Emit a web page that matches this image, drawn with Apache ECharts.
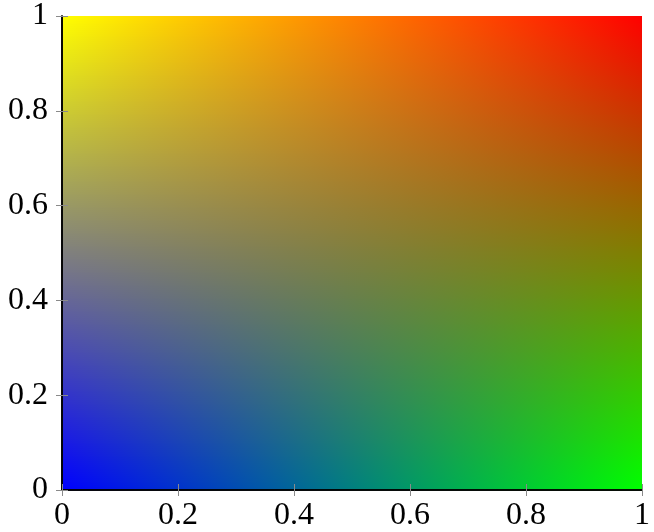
<!DOCTYPE html>
<html>
<head>
<meta charset="utf-8">
<script src="https://cdn.jsdelivr.net/npm/echarts@6/dist/echarts.min.js"></script>
<style>
html,body{margin:0;padding:0;background:#fff;}
#c{width:654px;height:532px;}
</style>
</head>
<body>
<div id="c"></div>
<script>
// Patch extent (data coordinates)
const patchX = [0, 1];
const patchY = [0, 1];
// Corner colours of the interpolated patch
const colorBottomLeft = [0, 0, 255];
const colorBottomRight = [0, 255, 0];
const colorTopLeft = [255, 255, 0];
const colorTopRight = [255, 0, 0];
// Axis ticks
const xTicks = [0, 0.2, 0.4, 0.6, 0.8, 1];
const yTicks = [0, 0.2, 0.4, 0.6, 0.8, 1];

const chart = echarts.init(document.getElementById('c'), null, {renderer: 'canvas'});

function mix(a, b, t) {
  return 'rgb(' + a.map((v, i) => Math.round(v + (b[i] - v) * t)).join(',') + ')';
}

const labelFont = {fontFamily: 'Liberation Serif', fontSize: 32, color: '#000'};
const tickStyle = {show: true, inside: true, length: 6, lineStyle: {color: '#8a8a8a', width: 1}};
const lineStyle = {show: true, lineStyle: {color: '#000', width: 1.6}};

chart.setOption({
  animation: false,
  grid: {left: 62, right: 12, top: 15, bottom: 42, containLabel: false},
  xAxis: [
    {type: 'value', min: xTicks[0], max: xTicks[xTicks.length - 1], interval: 0.2, position: 'bottom', z: 10,
     axisLine: lineStyle, axisTick: tickStyle, splitLine: {show: false},
     axisLabel: Object.assign({margin: 10, formatter: v => String(+v.toFixed(1))}, labelFont)},
    {type: 'value', min: xTicks[0], max: xTicks[xTicks.length - 1], interval: 0.2, position: 'top', z: 10,
     axisLine: lineStyle, axisTick: tickStyle, splitLine: {show: false}, axisLabel: {show: false}}
  ],
  yAxis: [
    {type: 'value', min: yTicks[0], max: yTicks[yTicks.length - 1], interval: 0.2, position: 'left', z: 10,
     axisLine: lineStyle, axisTick: tickStyle, splitLine: {show: false},
     axisLabel: Object.assign({margin: 14, formatter: v => String(+v.toFixed(1))}, labelFont)},
    {type: 'value', min: yTicks[0], max: yTicks[yTicks.length - 1], interval: 0.2, position: 'right', z: 10,
     axisLine: lineStyle, axisTick: tickStyle, splitLine: {show: false}, axisLabel: {show: false}}
  ],
  series: [{
    type: 'custom',
    z: 1,
    silent: true,
    data: [[patchX[0], patchY[0], patchX[1], patchY[1]]],
    renderItem: function (params, api) {
      const p0 = api.coord([api.value(0), api.value(1)]);
      const p1 = api.coord([api.value(2), api.value(3)]);
      const left = p0[0], right = p1[0], bottom = p0[1], top = p1[1];
      const n = Math.ceil(bottom - top);
      const h = (bottom - top) / n;
      const children = [];
      for (let i = 0; i < n; i++) {
        const t = 1 - (i + 0.5) / n; // fraction from bottom
        const lc = mix(colorBottomLeft, colorTopLeft, t);
        const rc = mix(colorBottomRight, colorTopRight, t);
        children.push({
          type: 'rect',
          shape: {x: left, y: top + i * h, width: right - left, height: h + 0.6},
          style: {fill: new echarts.graphic.LinearGradient(0, 0, 1, 0, [
            {offset: 0, color: lc}, {offset: 1, color: rc}
          ])}
        });
      }
      return {type: 'group', children: children};
    }
  }]
});
</script>
</body>
</html>
